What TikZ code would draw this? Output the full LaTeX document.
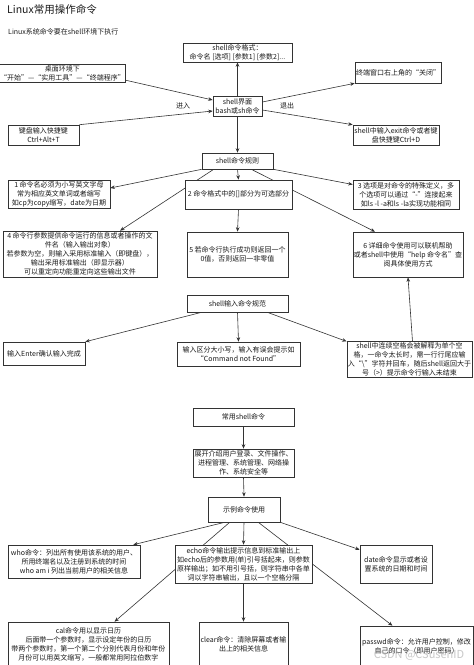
\documentclass[tikz,border=0pt]{standalone}
\usepackage{fontspec}
\setmainfont{Noto Sans CJK SC}
\usetikzlibrary{arrows.meta, positioning, backgrounds}
\definecolor{cLine}{HTML}{333333}
\definecolor{cText}{HTML}{1A1A1A}
\definecolor{cMark}{HTML}{B0B0B0}
\tikzset{
  cmdbox/.style={
    draw=cLine, fill=white, line width=0.6pt,
    inner sep=1pt, align=center, text=cText,
    font=\fontsize{7pt}{9pt}\selectfont,
  },
  plain/.style={font=\fontsize{7pt}{9pt}\selectfont, text=cText, inner sep=0pt},
  arw/.style={-{Stealth[length=4.5pt, width=3.6pt]}, line width=0.6pt, color=#1},
  arw/.default=cLine,
}

\begin{document}
\begin{tikzpicture}[x=1pt, y=-1pt]
  \useasboundingbox (0,0) rectangle (474,665);

  % Titles
  \node[plain, anchor=west, font=\fontsize{10.5pt}{12pt}\selectfont] (title) at (7,9) {Linux常用操作命令};
  \node[plain, anchor=west] (subtitle) at (8,31.5) {Linux系统命令要在shell环境下执行};

  % Entering and leaving the shell
  \node[cmdbox, minimum width=109pt, minimum height=18pt] (desk) at (62.5,73)
    {桌面环境下\\“开始”—“实用工具”—“终端程序”};
  \node[cmdbox, minimum width=109pt, minimum height=19pt] (fmt) at (237.5,52.5)
    {shell命令格式：\\命令名 [选项] [参数1] [参数2]...};
  \node[cmdbox, minimum width=86pt, minimum height=21pt] (closebox) at (398,72.5)
    {终端窗口右上角的“关闭”};
  \node[cmdbox, minimum width=49pt, minimum height=20pt] (shellui) at (237.5,106)
    {shell界面\\bash或sh命令};
  \node[cmdbox, minimum width=71pt, minimum height=20pt] (kbd) at (43.5,135)
    {键盘输入快捷键\\Ctrl+Alt+T};
  \node[cmdbox, minimum width=86pt, minimum height=20pt] (exitbox) at (396,135)
    {shell中输入exit命令或者键\\盘快捷键Ctrl+D};
  \node[plain] (lblin) at (183,106) {进入};
  \node[plain] (lblout) at (287,106) {退出};

  % Command rules
  \node[cmdbox, minimum width=71pt, minimum height=16pt] (rules) at (237.5,161) {shell命令规则};
  \node[cmdbox, minimum width=102pt, minimum height=28pt] (r1) at (59,194)
    {1 命令名必须为小写英文字母\\常为相应英文单词或者缩写\\如cp为copy缩写，date为日期};
  \node[cmdbox, minimum width=107pt, minimum height=29pt] (r2) at (238.5,194.5)
    {2 命令格式中的[]部分为可选部分};
  \node[cmdbox, minimum width=106pt, minimum height=29pt] (r3) at (406,194.5)
    {3 选项是对命令的特殊定义，多\\个选项可以通过“-”连接起来\\如ls -l -a和ls -la实现功能相同};
  \node[cmdbox, minimum width=154pt, minimum height=46pt] (r4) at (80,254)
    {4 命令行参数提供命令运行的信息或者操作的文\\件名（输入输出对象）\\若参数为空，则输入采用标准输入（即键盘），\\输出采用标准输出（即显示器）\\可以重定向功能重定向这些输出文件};
  \node[cmdbox, minimum width=101pt, minimum height=45pt] (r5) at (237.5,254.5)
    {5 若命令行执行成功则返回一个\\0值，否则返回一非零值};
  \node[cmdbox, minimum width=108pt, minimum height=45pt] (r6) at (408,254.5)
    {6 详细命令使用可以联机帮助\\或者shell中使用“help 命令名”查\\阅具体使用方式};

  % Input rules
  \node[cmdbox, minimum width=101pt, minimum height=17pt] (spec) at (237.5,303.5) {shell输入命令规范};
  \node[cmdbox, minimum width=82pt, minimum height=23pt] (enterbox) at (44,353.5) {输入Enter确认输入完成};
  \node[cmdbox, minimum width=123pt, minimum height=24pt] (casebox) at (238.5,354)
    {输入区分大小写，输入有误会提示如\\“Command not Found”};
  \node[cmdbox, minimum width=111pt, minimum height=35pt] (spacebox) at (409.5,359.5)
    {shell中连续空格会被解释为单个空\\格，一命令太长时，需一行行尾应输\\入“\textbackslash”字符并回车，随后shell返回大于\\号（>）提示命令行输入未结束};

  % Common commands
  \node[cmdbox, minimum width=101pt, minimum height=18pt] (common) at (243.5,417) {常用shell命令};
  \node[cmdbox, minimum width=101pt, minimum height=28pt] (intro) at (243.5,463)
    {展开介绍用户登录、文件操作、\\进程管理、系统管理、网络操\\作、系统安全等};
  \node[cmdbox, minimum width=72pt, minimum height=25pt] (demo) at (244,509.5) {示例命令使用};
  \node[cmdbox, minimum width=132pt, minimum height=33pt] (who) at (74,561.5)
    {who命令：列出所有使用该系统的用户、\\所用终端名以及注册到系统的时间\\who am i 列出当前用户的相关信息};
  \node[cmdbox, minimum width=137pt, minimum height=38pt] (echo) at (243.5,564)
    {echo命令输出提示信息到标准输出上\\如echo后的参数用(单)引号括起来，则参数\\原样输出；如不用引号括，则字符串中各单\\词以字符串输出，且以一个空格分隔};
  \node[cmdbox, minimum width=72pt, minimum height=38pt] (date) at (396,564)
    {date命令显示或者设\\置系统的日期和时间};
  \node[cmdbox, minimum width=161pt, minimum height=44pt] (cal) at (88.5,644)
    {cal命令用以显示日历\\后面带一个参数时，显示设定年份的日历\\带两个参数时，第一个第二个分别代表月份和年份\\月份可以用英文缩写，一般都常用阿拉伯数字};
  \node[cmdbox, minimum width=89pt, minimum height=44pt] (clear) at (243.5,644)
    {clear命令：清除屏幕或者输\\出上的相关信息};
  \node[cmdbox, minimum width=113pt, minimum height=40pt] (passwd) at (416.5,646)
    {passwd命令：允许用户控制，修改\\自己的口令（即用户密码）};

  \node[plain, font=\fontsize{11pt}{12pt}\selectfont, text=cMark, opacity=0.7] (mark) at (419,655) {CSDN @CSusenID};

  % Connectors (behind the boxes)
  \begin{scope}[on background layer]
    \foreach \a/\b in {shellui/rules, rules/r2, r2/r5, spec/casebox,
                       common/intro, intro/demo, demo/echo, echo/clear} {
      \draw[arw] (\a.south) -- (\b.north);
    }
    \draw[arw] (shellui.north) -- (fmt.south);
    \draw[arw] ([yshift=2pt]desk.south east) -- ([yshift=6pt]shellui.west);
    \draw[arw] (kbd.north east) -- ([yshift=-5pt]shellui.west);
    \draw[arw] ([yshift=4pt]shellui.east) -- (closebox.south west);
    \draw[arw] ([yshift=-4pt]shellui.east) -- (exitbox.north west);

    \draw[arw] (rules.south west) -- ([yshift=6pt]r1.east);
    \draw[arw] (rules.south east) -- ([yshift=10pt]r3.west);
    \draw[arw] ([xshift=12pt]rules.south west) -- ([xshift=40pt]r4.north);
    \draw[arw] ([xshift=-22pt]rules.south east) -- ([xshift=-33pt]r6.north);
    \draw[arw] ([xshift=3pt]spacebox.north) -- (r6.south);

    \draw[arw] ([xshift=15pt]spec.south west) -- (enterbox.north east);
    \draw[arw] ([xshift=-21pt]spec.south east) -- (spacebox.north west);

    \draw[arw] ([xshift=17pt]demo.south west) -- ([xshift=-7pt]who.north east);
    \draw[arw] ([xshift=22pt]demo.south west) -- ([xshift=26pt]cal.north);
    \draw[arw] (demo.south east) -- ([yshift=-5pt]date.north west);
    \draw[arw] ([xshift=-22pt]demo.south east) -- ([xshift=-24pt]passwd.north);
  \end{scope}
\end{tikzpicture}
\end{document}
